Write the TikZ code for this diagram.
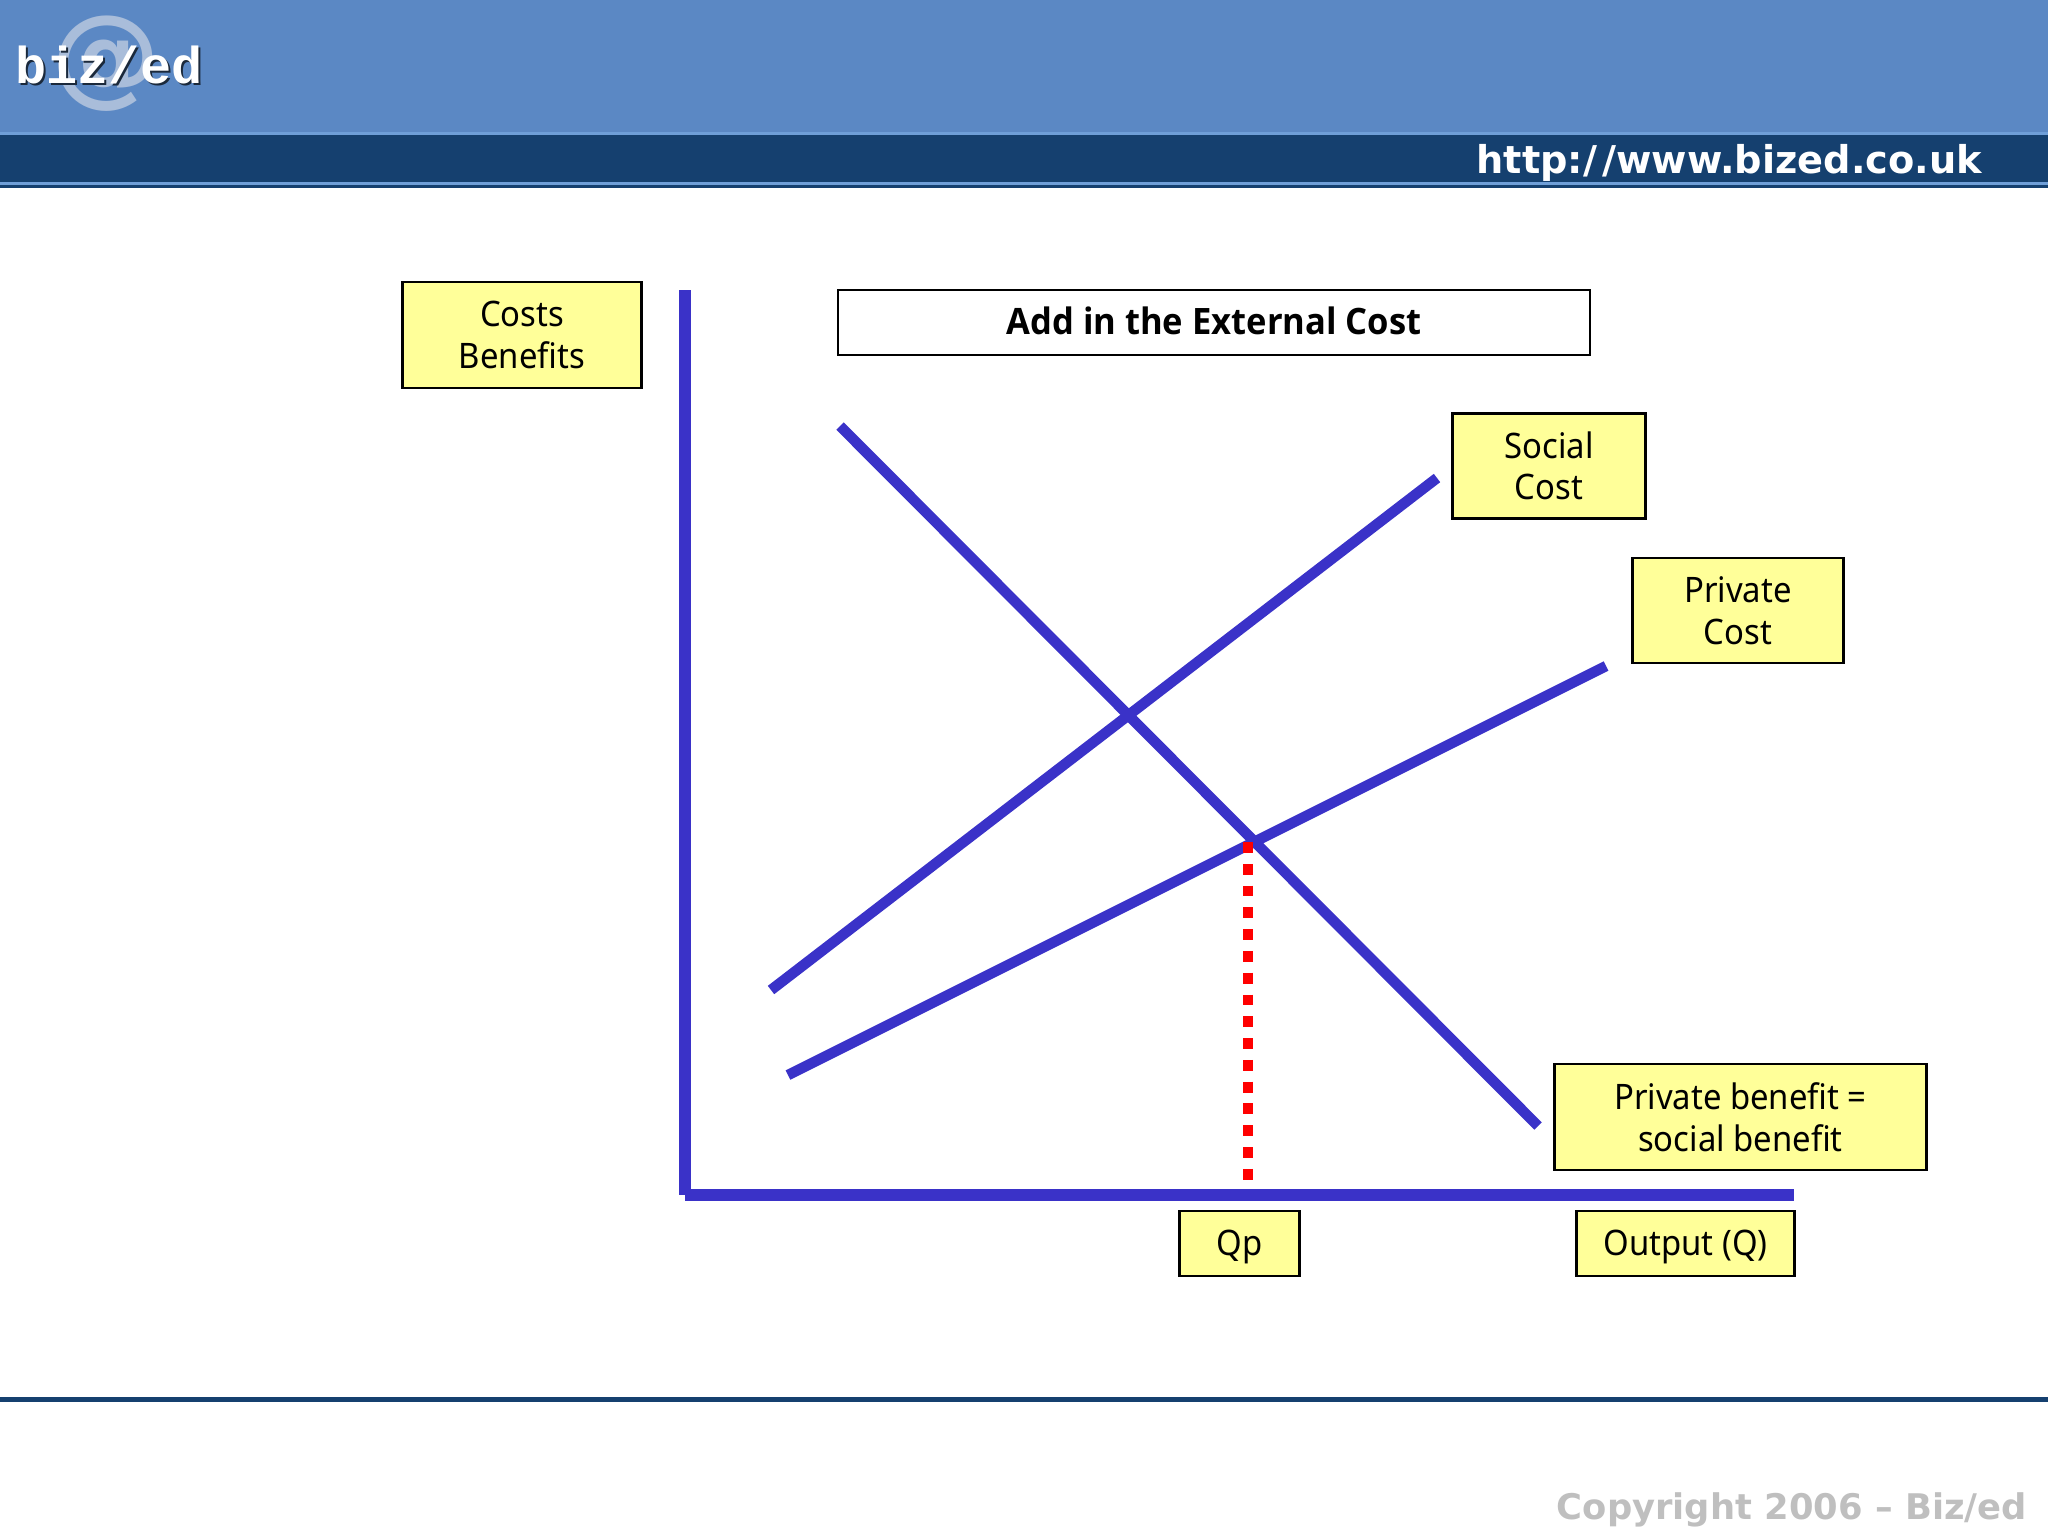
\documentclass[tikz,border=0pt]{standalone}
\usepackage{fontspec}
\setmainfont{Noto Sans}[FakeStretch=0.935]
\newfontfamily\titlefont{Open Sans}[FakeStretch=0.95]
\newfontfamily\headfont{DejaVu Sans}
\newfontfamily\logofont{Liberation Mono}
\usetikzlibrary{calc,positioning}
\definecolor{bandblue}{HTML}{5B88C4}
\definecolor{banddark}{HTML}{15406F}
\definecolor{bandline}{HTML}{6F9FD8}
\definecolor{curveblue}{HTML}{3A32C8}
\definecolor{boxyellow}{HTML}{FFFF99}
\definecolor{logoring}{HTML}{A9BDDA}
\tikzset{
	labelbox/.style={draw=black, line width=1.6pt, fill=boxyellow, align=center, inner sep=0pt, font=\fontsize{20}{23.6}\selectfont},
	curve/.style={draw=curveblue, line width=6pt},
	axisline/.style={draw=curveblue, line width=6.6pt},
}

\begin{document}
\begin{tikzpicture}[x=0.02cm, y=-0.02cm]
		\useasboundingbox (0,0) rectangle (2048,1536);

		\fill[bandblue] (0,0) rectangle (2048,133);
		\fill[bandline] (0,132) rectangle (2048,135);
		\fill[banddark] (0,135) rectangle (2048,182);
		\fill[bandline] (0,182) rectangle (2048,185);
		\fill[banddark] (0,185) rectangle (2048,188);
		\fill[banddark] (0,1397) rectangle (2048,1402);

		\node[text=logoring, font=\fontsize{62}{62}\headfont\bfseries] (at) at (106,64) {@};
		\node[text=black!70!bandblue, font=\fontsize{29.5}{30}\logofont\bfseries] (logoshadow) at (111,67) {biz/ed};
		\node[text=white, font=\fontsize{29.5}{30}\logofont\bfseries] (logo) at (109,65) {biz/ed};
		\node[text=white, anchor=east, font=\fontsize{21.8}{24}\headfont\bfseries] (url) at (1988,163) {http:/\kern3pt/www.bized.co.uk};
		\node[text=black!25, anchor=east, font=\fontsize{20.1}{24}\headfont\bfseries] (copyright) at (2033,1510) {Copyright 2006 – Biz/ed};

		\coordinate (origin) at (685,1195);
		\coordinate (ytop) at (685,290);
		\coordinate (xend) at (1794,1195);
		\coordinate (pbstart) at (840,426);
		\coordinate (pbend) at (1538,1126);
		\coordinate (scstart) at (771,990);
		\coordinate (scend) at (1437,478);
		\coordinate (pcstart) at (788,1075);
		\coordinate (pcend) at (1606,666);
		\coordinate (eqpoint) at (1248,842);
		\coordinate (qpfoot) at (1248,1187);

		\draw[axisline] (ytop) -- (origin);
		\draw[axisline] (origin) -- (xend);
		\draw[curve] (pbstart) -- (pbend);
		\draw[curve] (scstart) -- (scend);
		\draw[curve] (pcstart) -- (pcend);
		\draw[red, line width=5.9pt, dash pattern=on 6.2pt off 6.2pt] (eqpoint) -- (qpfoot);

		\node[labelbox, minimum width=239*0.02cm, minimum height=106*0.02cm] (costs) at (522,335) {Costs\\Benefits};
		\node[labelbox, fill=white, minimum width=752*0.02cm, minimum height=65*0.02cm, text height=15.3pt, text depth=1.5pt, font=\fontsize{20.7}{23.6}\titlefont\bfseries] (title) at (1214,322.5) {Add in the External Cost};
		\node[labelbox, minimum width=193*0.02cm, minimum height=105*0.02cm] (social) at (1549,466) {Social\\Cost};
		\node[labelbox, minimum width=211*0.02cm, minimum height=105*0.02cm] (private) at (1738,610.5) {Private\\Cost};
		\node[labelbox, minimum width=372*0.02cm, minimum height=106*0.02cm] (benefit) at (1740.5,1117) {Private benefit =\\social benefit};
		\node[labelbox, minimum width=120*0.02cm, minimum height=65*0.02cm, text height=19pt, text depth=5.2pt] (qp) at (1239.5,1243.5) {Qp};
		\node[labelbox, minimum width=218*0.02cm, minimum height=65*0.02cm, text height=19pt, text depth=5.2pt] (output) at (1685.5,1243.5) {Output (Q)};
	\end{tikzpicture}
\end{document}
